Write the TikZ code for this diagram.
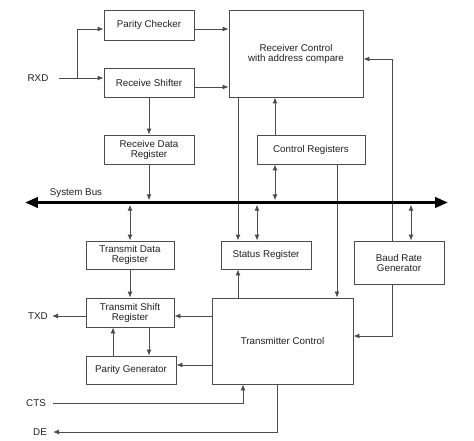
\documentclass[tikz,border=0pt]{standalone}
\usepackage{fontspec}
\setmainfont{Liberation Sans}
\usetikzlibrary{arrows.meta}
\begin{document}
\begin{tikzpicture}[x=1pt,y=-1pt,
 box/.style={draw=black!70, line width=0.9pt, inner sep=0pt, align=center, font=\fontsize{9.8}{10}\selectfont, text=black!88},
 conn/.style={draw=black!70, line width=0.9pt},
 arr/.style={conn, -{Latex[length=6pt,width=5pt]}},
 darr/.style={conn, {Latex[length=6pt,width=5pt]}-{Latex[length=6pt,width=5pt]}},
 lbl/.style={font=\fontsize{9.8}{10}\selectfont, text=black!88, inner sep=1pt},
 busline/.style={line width=3.6pt, {Triangle[length=13pt,width=10pt]}-{Triangle[length=13pt,width=10pt]}}]
\useasboundingbox (0,0) rectangle (474,441);
% boxes
\node[box, minimum width=90pt, minimum height=30pt] (pc) at (149,25) {Parity Checker};
\node[box, minimum width=90pt, minimum height=29pt] (rs) at (149,82.5) {Receive Shifter};
\node[box, minimum width=90pt, minimum height=29pt] (rdr) at (149,149.5) {Receive Data\\Register};
\node[box, minimum width=134pt, minimum height=87pt] (rc) at (296,53.5) {Receiver Control\\with address compare};
\node[box, minimum width=108pt, minimum height=29pt] (cr) at (311,149.5) {Control Registers};
\node[box, minimum width=90pt, minimum height=28pt] (sr) at (266,255) {Status Register};
\node[box, minimum width=90pt, minimum height=43pt] (brg) at (399,262.5) {Baud Rate\\Generator};
\node[box, minimum width=88pt, minimum height=28pt] (tdr) at (130,255) {Transmit Data\\Register};
\node[box, minimum width=88pt, minimum height=29pt] (tsr) at (130,312.5) {Transmit Shift\\Register};
\node[box, minimum width=90pt, minimum height=28pt] (pg) at (131,370) {Parity Generator};
\node[box, minimum width=141pt, minimum height=86pt] (tc) at (282.5,341) {Transmitter Control};
% labels
\node[lbl] (rxd) at (38,78) {RXD};
\node[lbl] (txd) at (38,316) {TXD};
\node[lbl] (cts) at (36,403) {CTS};
\node[lbl] (de) at (40,432) {DE};
\node[lbl] (sbus) at (76,193) {System Bus};
% bus body
\node[inner sep=0pt, minimum width=423pt, minimum height=4pt] (bus) at (236.5,202.5) {};
% guide coordinates
\coordinate (br) at (77,78);
\coordinate (y29) at (0,29);
\coordinate (y87) at (0,87);
\coordinate (y59) at (0,59);
\coordinate (y336) at (0,336);
\coordinate (y316) at (0,316);
\coordinate (y365) at (0,365);
\coordinate (x275) at (275,0);
\coordinate (x337) at (337,0);
\coordinate (x238) at (238,0);
\coordinate (x257) at (257,0);
\coordinate (x392) at (392,0);
\coordinate (x411) at (411,0);
\coordinate (x113) at (113,0);
\coordinate (x149) at (149,0);
\coordinate (x243) at (243,0);
\coordinate (x277) at (277,0);
% connectors
\draw[arr, shorten <=9pt] (rxd.east) -- (rs.west |- rxd);
\draw[arr] (br) |- (pc.west |- y29);
\draw[arr] (pc.east |- y29) -- (rc.west |- y29);
\draw[arr] (rs.east |- y87) -- (rc.west |- y87);
\draw[arr] (rs.south) -- (rdr.north);
\draw[arr] (rdr.south) -- (bus.north -| rdr.south);
\draw[arr] (cr.north -| x275) -- (rc.south -| x275);
\draw[darr] (cr.south -| x275) -- (bus.north -| x275);
\draw[arr] (cr.south -| x337) -- (tc.north -| x337);
\draw[arr] (rc.south -| x238) -- (sr.north -| x238);
\draw[darr] (bus.south -| x257) -- (sr.north -| x257);
\draw[arr] (tc.north -| x238) -- (sr.south -| x238);
\draw[arr] (brg.north -| x392) |- (rc.east |- y59);
\draw[darr] (bus.south -| x411) -- (brg.north -| x411);
\draw[arr] (brg.south -| x392) |- (tc.east |- y336);
\draw[darr] (bus.south -| tdr.north) -- (tdr.north);
\draw[arr] (tdr.south) -- (tsr.north);
\draw[arr, shorten >=3pt] (tsr.west |- y316) -- (txd.east |- y316);
\draw[arr] (tc.west |- y316) -- (tsr.east |- y316);
\draw[arr] (tc.west |- y365) -- (pg.east |- y365);
\draw[arr] (pg.north -| x113) -- (tsr.south -| x113);
\draw[arr] (tsr.south -| x149) -- (pg.north -| x149);
\draw[arr, shorten <=6pt] (cts.east) -| (tc.south -| x243);
\draw[arr, shorten >=5pt] (tc.south -| x277) |- (de.east);
% bus
\draw[busline] (bus.west) -- (bus.east);
\end{tikzpicture}
\end{document}
